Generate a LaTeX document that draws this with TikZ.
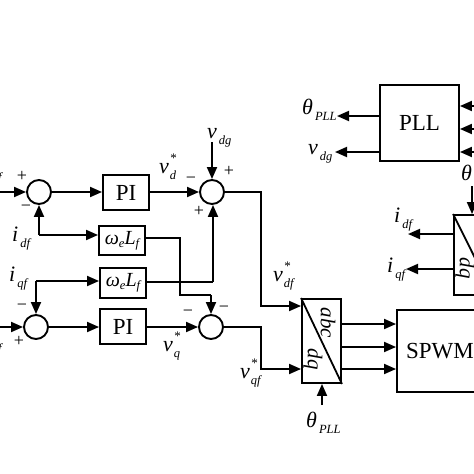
\documentclass[tikz,border=0pt]{standalone}
\usepackage{fontspec}
\setmainfont{Liberation Serif}
\usetikzlibrary{arrows.meta}
\newcommand{\bigt}[1]{{\fontsize{22}{22}\selectfont\itshape #1}}
\newcommand{\subt}[1]{{\fontsize{12.5}{13}\selectfont\itshape #1}}
\newcommand{\lab}[3]{\bigt{#1}\rlap{\raisebox{11pt}{\hspace{1.5pt}{\fontsize{13}{13}\selectfont #3}}}\raisebox{-6pt}{\hspace{1pt}\subt{#2}}}
\newcommand{\labn}[2]{\bigt{#1}\raisebox{-6pt}{\hspace{2pt}\subt{#2}}}
\newcommand{\wel}{{\fontsize{20}{20}\selectfont\itshape ω\raisebox{-3pt}{\subt{e}}L\raisebox{-3pt}{\subt{f}}}}
\tikzset{
  wire/.style={line width=1.8pt,-{Triangle[length=12pt,width=10pt]}},
  plainwire/.style={line width=1.8pt},
  sumj/.style={circle,draw,line width=1.9pt,minimum size=24pt,inner sep=0pt},
  blockbox/.style={draw,line width=1.9pt,inner sep=0pt,font=\fontsize{23}{23}\selectfont},
  lbl/.style={inner sep=0pt,anchor=base west},
  sgn/.style={inner sep=0pt,font=\fontsize{18}{18}\selectfont},
  rot/.style={inner sep=0pt,rotate=-90,font=\fontsize{21}{21}\selectfont\itshape}
}
\begin{document}
\begin{tikzpicture}[x=1pt,y=-1pt]
\useasboundingbox (0,0) rectangle (474,474);
\clip (0,0) rectangle (474,474);
\fill[white] (0,0) rectangle (474,474);
% junctions
\node[sumj] (s1) at (39,192) {};
\node[sumj] (s2) at (212,192) {};
\node[sumj] (s3) at (36,327) {};
\node[sumj] (s4) at (211,327) {};
% blocks
\node[blockbox,minimum width=46pt,minimum height=35pt] (pi1) at (126,192.5) {PI};
\node[blockbox,minimum width=46pt,minimum height=29pt] (wl1) at (122,240.5) {\wel};
\node[blockbox,minimum width=46pt,minimum height=30pt] (wl2) at (123,283) {\wel};
\node[blockbox,minimum width=46pt,minimum height=35pt] (pi2) at (123,326.5) {PI};
\node[blockbox,minimum width=39pt,minimum height=84pt] (tf) at (321.5,341) {};
\node[blockbox,minimum width=100pt,minimum height=82pt,text width=92pt,align=left] (pwm) at (447,351) {\hspace{5pt}SPWM};
\node[blockbox,minimum width=79pt,minimum height=76pt] (pll) at (419.5,123) {PLL};
\node[blockbox,minimum width=39pt,minimum height=80pt] (tf2) at (473.5,255) {};
% diagonals and rotated text
\draw[plainwire] (tf.north west) -- (tf.south east);
\draw[plainwire] (tf2.north west) -- (tf2.south east);
\node[rot] (abc1) at (328,323) {abc};
\node[rot] (dq1) at (313,359) {dq};
\node[rot] (dq2) at (465,268) {dq};
% free ends
\coordinate (in1) at (0,192);
\coordinate (in3) at (0,327);
\coordinate (idfc) at (39,235);
\coordinate (iqfc) at (36,281);
\coordinate (xa) at (180,238);
\coordinate (xb) at (180,295);
\coordinate (xc) at (211,295);
\coordinate (ya) at (213,282);
\coordinate (pa) at (261,192);
\coordinate (pb) at (261,306);
\coordinate (qa) at (261,327);
\coordinate (qb) at (261,369);
\coordinate (thb) at (322,405);
\coordinate (tht) at (472,186);
\coordinate (vdgt) at (212,142);
\coordinate (r1) at (480,106);
\coordinate (r2) at (480,129);
\coordinate (r3) at (480,152);
\coordinate (o1) at (337,116);
\coordinate (o2) at (335,152);
\coordinate (o3) at (408,234);
\coordinate (o4) at (406,269);
% wires
\draw[wire] (in1) -- (s1.west);
\draw[wire] (s1.east) -- (pi1.west |- s1.east);
\draw[wire] (pi1.east |- s2.west) -- (s2.west);
\draw[wire] (vdgt) -- (s2.north);
\draw[wire] (in3) -- (s3.west);
\draw[wire] (s3.east) -- (pi2.west |- s3.east);
\draw[wire] (pi2.east |- s4.west) -- (s4.west);
\draw[wire] (idfc) -- (s1.south);
\draw[wire] (idfc) -- (wl1.west |- idfc);
\draw[wire] (iqfc) -- (wl2.west |- iqfc);
\draw[wire] (iqfc) -- (s3.north);
\draw[plainwire] (wl1.east |- xa) -- (xa) -- (xb) -- (xc);
\draw[wire] (xc) -- (s4.north);
\draw[plainwire] (wl2.east |- ya) -- (ya);
\draw[wire] (ya) -- (s2.south -| ya);
\draw[wire] (s2.east) -- (pa) -- (pb) -- (tf.west |- pb);
\draw[wire] (s4.east) -- (qa) -- (qb) -- (tf.west |- qb);
\draw[wire] (tf.east |- 0,324) -- (pwm.west |- 0,324);
\draw[wire] (tf.east |- 0,347) -- (pwm.west |- 0,347);
\draw[wire] (tf.east |- 0,369) -- (pwm.west |- 0,369);
\draw[wire] (thb) -- (tf.south -| thb);
\draw[wire] (tht) -- (tht |- tf2.north);
\draw[wire] (r1) -- (pll.east |- r1);
\draw[wire] (r2) -- (pll.east |- r2);
\draw[wire] (r3) -- (pll.east |- r3);
\draw[wire] (pll.west |- o1) -- (o1);
\draw[wire] (pll.west |- o2) -- (o2);
\draw[wire] (tf2.west |- o3) -- (o3);
\draw[wire] (tf2.west |- o4) -- (o4);
% labels
\node[lbl] (l1) at (-19,175) {\lab{v}{df}{*}};
\node[lbl] (l2) at (-19,346) {\lab{v}{df}{*}};
\node[lbl] (l3) at (207,138) {\labn{v}{dg}};
\node[lbl] (l4) at (159,173) {\lab{v}{d}{*}};
\node[lbl] (l5) at (12,241) {\labn{i}{df}};
\node[lbl] (l6) at (9,281) {\labn{i}{qf}};
\node[lbl] (l7) at (163,351) {\lab{v}{q}{*}};
\node[lbl] (l8) at (273,281) {\lab{v}{df}{*}};
\node[lbl] (l9) at (240,378) {\lab{v}{qf}{*}};
\node[lbl] (l10) at (306,427) {\labn{θ}{PLL}};
\node[lbl] (l11) at (302,114) {\labn{θ}{PLL}};
\node[lbl] (l12) at (308,154) {\labn{v}{dg}};
\node[lbl] (l13) at (394,222) {\labn{i}{df}};
\node[lbl] (l14) at (387,272) {\labn{i}{qf}};
\node[lbl] (l15) at (461,180) {\bigt{θ}};
% signs
\node[sgn] (p1) at (22,176) {+};
\node[sgn] (m1) at (26,208) {\textminus};
\node[sgn] (m2) at (191,180) {\textminus};
\node[sgn] (p2) at (229,171) {+};
\node[sgn] (p3) at (199,211) {+};
\node[sgn] (m3) at (22,307) {\textminus};
\node[sgn] (p4) at (19,341) {+};
\node[sgn] (m4) at (188,313) {\textminus};
\node[sgn] (m5) at (224,309) {\textminus};
\end{tikzpicture}
\end{document}
